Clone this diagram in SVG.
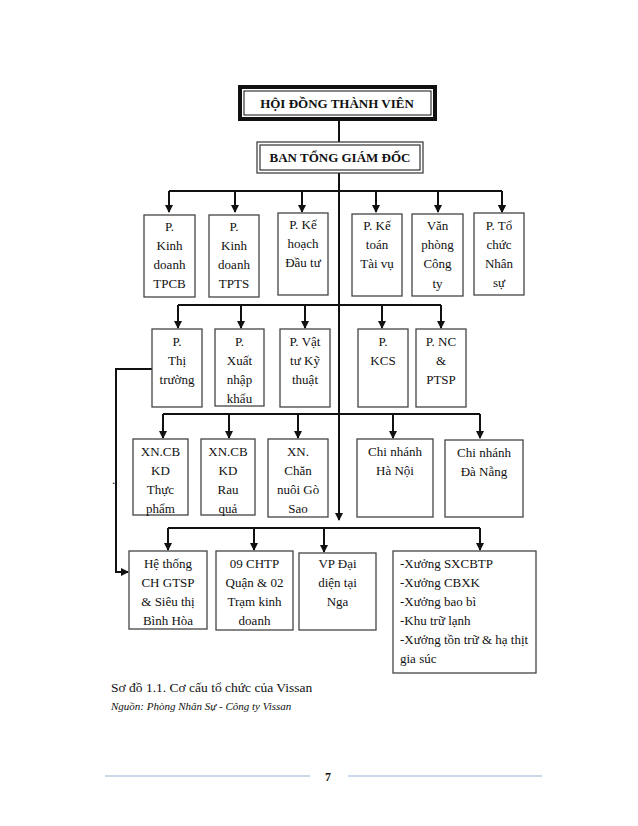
<svg xmlns="http://www.w3.org/2000/svg" width="638" height="826" viewBox="0 0 638 826">
<style>
text{font-family:"Liberation Serif","Times New Roman",serif;font-size:13px;fill:#111}
.c{text-anchor:middle}
.b{font-weight:bold}
.box{fill:#fff;stroke:#444;stroke-width:1.3}
.ln{fill:none;stroke:#111;stroke-width:2}
</style>
<defs><marker id="a" markerWidth="8" markerHeight="8" refX="7" refY="4" orient="auto" markerUnits="userSpaceOnUse"><path d="M0,0L8,4L0,8Z" fill="#111"/></marker></defs>
<rect width="638" height="826" fill="#fff"/>
<g id="connectors" class="ln">
<path d="M339,119V520" marker-end="url(#a)"/>
<path d="M169,191H502"/>
<path d="M169,191V212M235,191V212M302,191V212M376,191V212M438,191V212M502,191V212" marker-end="url(#a)"/>
<path d="M169,191V212" marker-end="url(#a)"/><path d="M235,191V212" marker-end="url(#a)"/><path d="M302,191V212" marker-end="url(#a)"/><path d="M376,191V212" marker-end="url(#a)"/><path d="M438,191V212" marker-end="url(#a)"/><path d="M502,191V212" marker-end="url(#a)"/>
<path d="M178,305H441"/>
<path d="M178,305V328" marker-end="url(#a)"/><path d="M241,305V328" marker-end="url(#a)"/><path d="M305,305V328" marker-end="url(#a)"/><path d="M382,305V328" marker-end="url(#a)"/><path d="M441,305V328" marker-end="url(#a)"/>
<path d="M163,414H480"/>
<path d="M163,414V438" marker-end="url(#a)"/><path d="M229,414V438" marker-end="url(#a)"/><path d="M298,414V438" marker-end="url(#a)"/><path d="M393,414V438" marker-end="url(#a)"/><path d="M480,414V438" marker-end="url(#a)"/>
<path d="M168,528H480"/>
<path d="M168,528V550" marker-end="url(#a)"/><path d="M254,528V550" marker-end="url(#a)"/><path d="M324,528V552" marker-end="url(#a)"/><path d="M480,528V550" marker-end="url(#a)"/>
<path d="M152,369H116V572H128" marker-end="url(#a)"/>
</g>
<g id="hdtv"><rect x="240" y="87" width="195" height="32" fill="#fff" stroke="#111" stroke-width="4"/><rect x="244" y="91" width="187" height="24" fill="none" stroke="#111" stroke-width="1"/><text class="c b" x="337" y="108">HỘI ĐỒNG THÀNH VIÊN</text></g>
<g id="btgd"><rect x="257" y="142" width="166" height="31" fill="#fff" stroke="#333" stroke-width="1.2"/><rect x="260" y="145" width="160" height="25" fill="none" stroke="#333" stroke-width="1.2"/><text class="c b" x="340" y="162">BAN TỔNG GIÁM ĐỐC</text></g>
<g id="r1a"><rect class="box" x="144" y="215" width="51" height="82"/><text class="c" x="169.5" y="231">P.</text><text class="c" x="169.5" y="250">Kinh</text><text class="c" x="169.5" y="269">doanh</text><text class="c" x="169.5" y="288">TPCB</text></g>
<g id="r1b"><rect class="box" x="209" y="215" width="50" height="82"/><text class="c" x="234" y="231">P.</text><text class="c" x="234" y="250">Kinh</text><text class="c" x="234" y="269">doanh</text><text class="c" x="234" y="288">TPTS</text></g>
<g id="r1c"><rect class="box" x="278" y="213" width="50" height="82"/><text class="c" x="303" y="229">P. Kế</text><text class="c" x="303" y="248">hoạch</text><text class="c" x="303" y="267">Đầu tư</text></g>
<g id="r1d"><rect class="box" x="352" y="214" width="50" height="82"/><text class="c" x="377" y="230">P. Kế</text><text class="c" x="377" y="249">toán</text><text class="c" x="377" y="268">Tài vụ</text></g>
<g id="r1e"><rect class="box" x="412" y="214" width="51" height="82"/><text class="c" x="437.5" y="230">Văn</text><text class="c" x="437.5" y="249">phòng</text><text class="c" x="437.5" y="268">Công</text><text class="c" x="437.5" y="288">ty</text></g>
<g id="r1f"><rect class="box" x="474" y="213" width="50" height="82"/><text class="c" x="499" y="230">P. Tổ</text><text class="c" x="499" y="249">chức</text><text class="c" x="499" y="268">Nhân</text><text class="c" x="499" y="287">sự</text></g>
<g id="r2a"><rect class="box" x="152" y="329" width="50" height="78"/><text class="c" x="177" y="346">P.</text><text class="c" x="177" y="365">Thị</text><text class="c" x="177" y="384">trường</text></g>
<g id="r2b"><rect class="box" x="215" y="329" width="49" height="77"/><text class="c" x="239.5" y="346">P.</text><text class="c" x="239.5" y="365">Xuất</text><text class="c" x="239.5" y="384">nhập</text><text class="c" x="239.5" y="403">khẩu</text></g>
<g id="r2c"><rect class="box" x="280" y="329" width="50" height="78"/><text class="c" x="305" y="346">P. Vật</text><text class="c" x="305" y="365">tư Kỹ</text><text class="c" x="305" y="384">thuật</text></g>
<g id="r2d"><rect class="box" x="358" y="329" width="50" height="78"/><text class="c" x="383" y="346">P.</text><text class="c" x="383" y="365">KCS</text></g>
<g id="r2e"><rect class="box" x="416" y="329" width="50" height="78"/><text class="c" x="441" y="346">P. NC</text><text class="c" x="441" y="365">&amp;</text><text class="c" x="441" y="384">PTSP</text></g>
<g id="r3a"><rect class="box" x="133" y="439" width="55" height="76"/><text class="c" x="160.5" y="456">XN.CB</text><text class="c" x="160.5" y="475">KD</text><text class="c" x="160.5" y="494">Thực</text><text class="c" x="160.5" y="513">phẩm</text></g>
<g id="r3b"><rect class="box" x="201" y="439" width="54" height="76"/><text class="c" x="228" y="456">XN.CB</text><text class="c" x="228" y="475">KD</text><text class="c" x="228" y="494">Rau</text><text class="c" x="228" y="513">quả</text></g>
<g id="r3c"><rect class="box" x="268" y="439" width="60" height="78"/><text class="c" x="298" y="456">XN.</text><text class="c" x="298" y="475">Chăn</text><text class="c" x="298" y="494">nuôi Gò</text><text class="c" x="298" y="513">Sao</text></g>
<g id="r3d"><rect class="box" x="357" y="439" width="76" height="78"/><text class="c" x="395" y="456">Chi nhánh</text><text class="c" x="395" y="475">Hà Nội</text></g>
<g id="r3e"><rect class="box" x="445" y="440" width="78" height="77"/><text class="c" x="484" y="457">Chi nhánh</text><text class="c" x="484" y="476">Đà Nẵng</text></g>
<text x="112" y="484">.</text>
<g id="r4a"><rect class="box" x="129" y="551" width="78" height="78"/><text class="c" x="168" y="568">Hệ thống</text><text class="c" x="168" y="587">CH GTSP</text><text class="c" x="168" y="606">&amp; Siêu thị</text><text class="c" x="168" y="625">Bình Hòa</text></g>
<g id="r4b"><rect class="box" x="216" y="551" width="77" height="79"/><text class="c" x="254.5" y="568">09 CHTP</text><text class="c" x="254.5" y="587">Quận &amp; 02</text><text class="c" x="254.5" y="606">Trạm kinh</text><text class="c" x="254.5" y="625">doanh</text></g>
<g id="r4c"><rect class="box" x="299" y="553" width="77" height="77"/><text class="c" x="337.5" y="568">VP Đại</text><text class="c" x="337.5" y="587">diện tại</text><text class="c" x="337.5" y="606">Nga</text></g>
<g id="r4d"><rect class="box" x="393" y="551" width="143" height="122"/><text x="400" y="568">-Xưởng SXCBTP</text><text x="400" y="587">-Xưởng CBXK</text><text x="400" y="606">-Xưởng bao bì</text><text x="400" y="625">-Khu trữ lạnh</text><text x="400" y="644">-Xưởng tồn trữ &amp; hạ thịt</text><text x="400" y="663">gia súc</text></g>
<text x="111" y="692" style="font-size:13.5px">Sơ đồ 1.1. Cơ cấu tổ chức của Vissan</text>
<text x="111" y="710" style="font-size:11px;font-style:italic">Nguồn: Phòng Nhân Sự - Công ty Vissan</text>
<path d="M105,776H310M348,776H542" stroke="#b8cce4" stroke-width="1.5"/>
<text class="c b" x="328" y="781" style="font-size:12px">7</text>
</svg>
